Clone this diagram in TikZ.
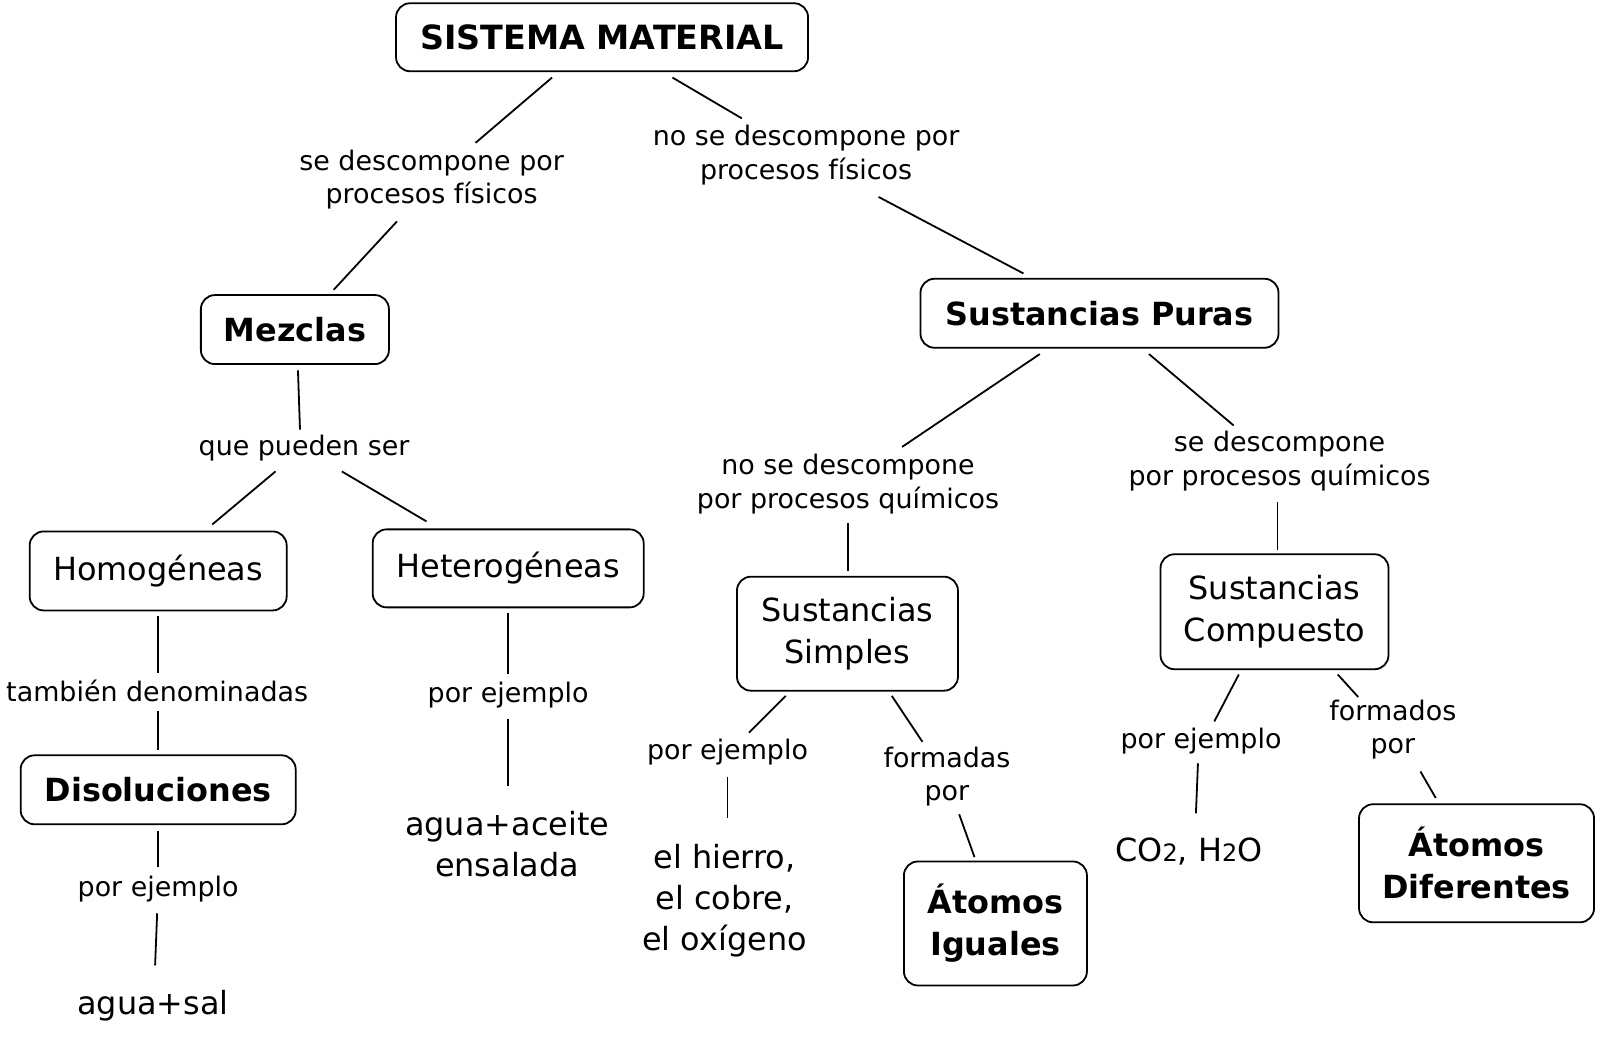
\documentclass[tikz,border=0pt]{standalone}
\usepackage{fontspec}
\setmainfont{DejaVu Sans}
\begin{document}
\begin{tikzpicture}[x=1.0204bp,y=-1.0204bp,
 box/.style={draw,line width=1.8bp,rounded corners=14bp,align=center,inner sep=0pt},
 big/.style={font=\fontsize{32}{42}\selectfont},
 bigb/.style={font=\fontsize{32}{42}\selectfont\bfseries},
 lab/.style={align=center,inner sep=0pt,font=\fontsize{27}{34}\selectfont},
 txt/.style={align=center,inner sep=0pt,font=\fontsize{32}{41}\selectfont},
 ln/.style={line width=1.8bp}]
\useasboundingbox (0,0) rectangle (1568,1031);
% boxes
\node[box,font=\fontsize{33.5}{42}\selectfont\bfseries,minimum width=412bp,minimum height=68bp] (sm) at (590,36.5) {SISTEMA MATERIAL};
\node[box,bigb,minimum width=188bp,minimum height=69bp] (mez) at (289,323) {Mezclas};
\node[box,bigb,minimum width=358bp,minimum height=69bp] (sp) at (1077.5,307) {Sustancias Puras};
\node[box,big,minimum width=257bp,minimum height=79bp] (hom) at (155,559.5) {Homogéneas};
\node[box,big,minimum width=271bp,minimum height=78bp] (het) at (498,557) {Heterogéneas};
\node[box,bigb,minimum width=275bp,minimum height=69bp] (dis) at (155,774) {Disoluciones};
\node[box,big,minimum width=221bp,minimum height=114bp] (ss) at (830.5,621) {Sustancias\\Simples};
\node[box,big,minimum width=228bp,minimum height=115bp] (sc) at (1249,599.5) {Sustancias\\Compuesto};
\node[box,bigb,minimum width=183bp,minimum height=124bp] (ai) at (975.5,905) {Átomos\\Iguales};
\node[box,bigb,minimum width=235bp,minimum height=118bp] (ad) at (1447,846) {Átomos\\Diferentes};
% plain texts
\node[txt] (t1) at (497,827) {agua+aceite\\ensalada};
\node[txt] (t2) at (710,883) {el hierro,\\el cobre,\\el oxígeno};
\node[txt] (t3) at (1165,834) {CO{\fontsize{24}{24}\selectfont 2}, H{\fontsize{24}{24}\selectfont 2}O};
\node[txt] (t4) at (150,986) {agua+sal};
% labels
\node[lab] (l1) at (423,176) {se descompone por\\procesos físicos};
\node[lab] (l2) at (790,152) {no se descompone por\\procesos físicos};
\node[lab] (l3) at (298,439) {que pueden ser};
\node[lab] (l4) at (154,677) {también denominadas};
\node[lab] (l5) at (498,681) {por ejemplo};
\node[lab] (l6) at (155,871) {por ejemplo};
\node[lab] (l7) at (831,474) {no se descompone\\por procesos químicos};
\node[lab] (l8) at (1254,452) {se descompone\\por procesos químicos};
\node[lab] (l9) at (713,737) {por ejemplo};
\node[lab] (l10) at (928,761) {formadas\\por};
\node[lab] (l11) at (1177,726) {por ejemplo};
\node[lab] (l12) at (1365,715) {formados\\por};
% connector endpoints
\foreach \n/\x/\y in {a1/541/76,a2/466/140,a3/389/217,a4/327/284,
 b1/659/76,b2/727/116,b3/861/193,b4/1003/268,
 c1/292/363,c2/294/421,c3/270/462,c4/208/514,c5/335/462,c6/418/511,
 d1/155/604,d2/155/660,d3/155/697,d4/155/735,
 e1/155/814,e2/155/850,e3/154/895,e4/152/946,
 f1/498/601,f2/498/661,f3/498/705,f4/498/770,
 g1/1019/347,g2/884/438,g3/1126/347,g4/1209/417,
 h1/831/513,h2/831/560,h3/1252/492,h4/1252/539,
 i1/770/682,i2/734/718,i3/713/761,i4/713/802,
 j1/874/682,j2/904/727,j3/940/798,j4/955/840,
 k1/1214/661,k2/1190/707,k3/1174/748,k4/1172/797,
 m1/1311/661,m2/1331/683,m3/1392/756,m4/1407/782}
 \coordinate (\n) at (\x,\y);
\foreach \p/\q in {a1/a2,a3/a4,b1/b2,b3/b4,c1/c2,c3/c4,c5/c6,d1/d2,d3/d4,e1/e2,e3/e4,
 f1/f2,f3/f4,g1/g2,g3/g4,h1/h2,h3/h4,i1/i2,i3/i4,j1/j2,j3/j4,k1/k2,k3/k4,m1/m2,m3/m4}
 \draw[ln] (\p) -- (\q);
\end{tikzpicture}
\end{document}
